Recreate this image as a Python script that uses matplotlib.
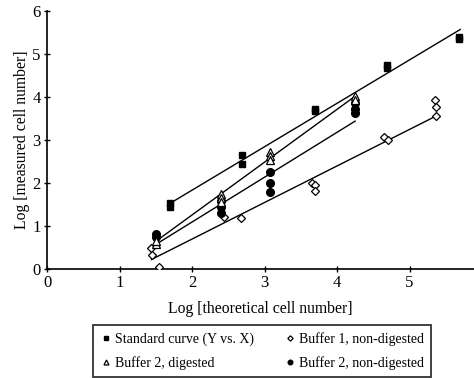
import matplotlib
matplotlib.use("Agg")
import matplotlib.pyplot as plt
import numpy as np

plt.rcParams['font.family'] = ['Liberation Serif', 'DejaVu Serif']

# Data
std_x = [1.70, 1.70, 2.69, 2.69, 3.70, 3.70, 4.69, 4.69, 5.68, 5.68]
std_y = [1.53, 1.44, 2.65, 2.44, 3.72, 3.68, 4.74, 4.68, 5.40, 5.36]

b1_x = [1.43, 1.45, 1.55, 2.44, 2.67, 3.65, 3.70, 3.69, 4.65, 4.71, 5.35, 5.37, 5.37]
b1_y = [0.49, 0.33, 0.05, 1.22, 1.18, 2.01, 1.95, 1.82, 3.06, 3.00, 3.93, 3.77, 3.56]

b2d_x = [1.51, 1.51, 2.40, 2.40, 2.40, 3.08, 3.08, 3.08, 4.25, 4.25]
b2d_y = [0.58, 0.66, 1.75, 1.65, 1.55, 2.73, 2.62, 2.53, 4.03, 3.92]

b2n_x = [1.50, 1.50, 2.40, 2.40, 2.40, 3.07, 3.07, 3.07, 4.25, 4.25, 4.25]
b2n_y = [0.81, 0.75, 1.58, 1.45, 1.30, 2.25, 1.99, 1.79, 3.86, 3.73, 3.62]

# Fitted trend lines (slope, intercept, x-start, x-end)
std_fit = [1.010, -0.187, 1.70, 5.70]
b1_fit = [0.850, -1.004, 1.44, 5.36]
b2d_fit = [1.228, -1.200, 1.49, 4.25]
b2n_fit = [1.043, -0.994, 1.49, 4.25]

labels = ["Standard curve (Y vs. X)", "Buffer 1, non-digested",
          "Buffer 2, digested", "Buffer 2, non-digested"]

fig = plt.figure(figsize=(4.74, 3.78), dpi=100)
ax = fig.add_axes([47/474, 109/378, 1 - 47/474, 258/378])

for fit in (std_fit, b1_fit, b2d_fit, b2n_fit):
    xs = np.array([fit[2], fit[3]])
    ax.plot(xs, fit[0]*xs + fit[1], color='black', lw=1.0, zorder=2)

h_std, = ax.plot(std_x, std_y, 's', ms=5, mfc='black', mec='black', ls='none', zorder=3)
h_b1, = ax.plot(b1_x, b1_y, 'D', ms=4.5, mfc='white', mec='black', mew=0.9, ls='none', zorder=3)
h_b2d, = ax.plot(b2d_x, b2d_y, '^', ms=6, mfc='white', mec='black', mew=0.9, ls='none', zorder=4)
h_b2n, = ax.plot(b2n_x, b2n_y, 'o', ms=5.5, mfc='black', mec='black', ls='none', zorder=3)

ax.set_xlim(0, 427/72.5)
ax.set_ylim(0, 6)
ax.set_xticks([0, 1, 2, 3, 4, 5])
ax.set_yticks([0, 1, 2, 3, 4, 5, 6])
for s in ('top', 'right'):
    ax.spines[s].set_visible(False)
ax.spines['left'].set_linewidth(1.2)
ax.spines['bottom'].set_linewidth(1.2)
ax.tick_params(direction='inout', length=5, width=1, labelsize=12, pad=2)
ax.set_xlabel("Log [theoretical cell number]", fontsize=11.3, labelpad=7)
ax.set_ylabel("Log [measured cell number]", fontsize=11.3, labelpad=2)

leg = fig.legend([h_std, h_b2d, h_b1, h_b2n],
                 [labels[0], labels[2], labels[1], labels[3]],
                 ncol=2, loc='lower left',
                 bbox_to_anchor=(93/474, 1/378, 338/474, 48/378),
                 mode='expand', borderaxespad=0, frameon=True, fancybox=False,
                 edgecolor='black', fontsize=10, handletextpad=0.25,
                 handlelength=0.8, markerscale=0.6, borderpad=0.5,
                 labelspacing=0.75, columnspacing=1.0)
leg.get_frame().set_linewidth(1.3)

fig.savefig("out.png", dpi=100)
